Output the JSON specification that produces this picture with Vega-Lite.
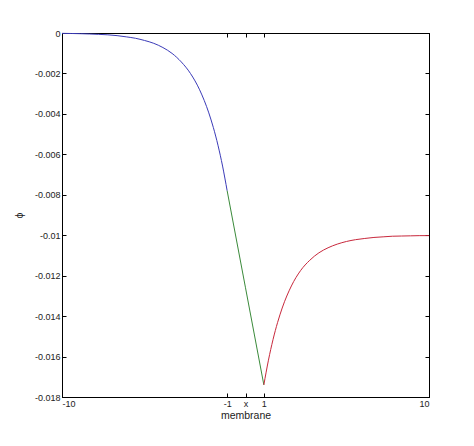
{
  "$schema": "https://vega.github.io/schema/vega-lite/v6.json",
  "width": 367,
  "height": 364,
  "autosize": "none",
  "padding": {"left": 62, "top": 33, "right": 45, "bottom": 49},
  "background": "white",
  "config": {
    "view": {"stroke": "black", "strokeWidth": 1},
    "axis": {
      "grid": false,
      "domainColor": "black",
      "tickColor": "black",
      "labelFont": "Liberation Sans",
      "titleFont": "Liberation Sans",
      "labelColor": "#222222",
      "titleColor": "#222222",
      "labelFontSize": 9,
      "titleFontSize": 10.5,
      "titleFontWeight": "normal",
      "tickSize": -4
    }
  },
  "data": {
    "values": [
      {"x": -10, "phi": -0.000017, "seg": "a"},
      {"x": -9.5, "phi": -0.000024, "seg": "a"},
      {"x": -9, "phi": -0.000034, "seg": "a"},
      {"x": -8.5, "phi": -0.000048, "seg": "a"},
      {"x": -8, "phi": -0.000067, "seg": "a"},
      {"x": -7.5, "phi": -0.00009, "seg": "a"},
      {"x": -7, "phi": -0.00013, "seg": "a"},
      {"x": -6.5, "phi": -0.00019, "seg": "a"},
      {"x": -6, "phi": -0.00026, "seg": "a"},
      {"x": -5.5, "phi": -0.00037, "seg": "a"},
      {"x": -5, "phi": -0.00051, "seg": "a"},
      {"x": -4.5, "phi": -0.00072, "seg": "a"},
      {"x": -4, "phi": -0.00101, "seg": "a"},
      {"x": -3.5, "phi": -0.00143, "seg": "a"},
      {"x": -3, "phi": -0.002, "seg": "a"},
      {"x": -2.5, "phi": -0.00281, "seg": "a"},
      {"x": -2, "phi": -0.00395, "seg": "a"},
      {"x": -1.75, "phi": -0.00468, "seg": "a"},
      {"x": -1.5, "phi": -0.00555, "seg": "a"},
      {"x": -1.25, "phi": -0.00658, "seg": "a"},
      {"x": -1, "phi": -0.0078, "seg": "a"},
      {"x": -1, "phi": -0.0078, "seg": "b"},
      {"x": 0, "phi": -0.0126, "seg": "b"},
      {"x": 1, "phi": -0.0174, "seg": "b"},
      {"x": 1, "phi": -0.0174, "seg": "c"},
      {"x": 1.25, "phi": -0.01618, "seg": "c"},
      {"x": 1.5, "phi": -0.01516, "seg": "c"},
      {"x": 1.75, "phi": -0.01431, "seg": "c"},
      {"x": 2, "phi": -0.0136, "seg": "c"},
      {"x": 2.5, "phi": -0.01251, "seg": "c"},
      {"x": 3, "phi": -0.01175, "seg": "c"},
      {"x": 3.5, "phi": -0.01124, "seg": "c"},
      {"x": 4, "phi": -0.01087, "seg": "c"},
      {"x": 4.5, "phi": -0.01062, "seg": "c"},
      {"x": 5, "phi": -0.01044, "seg": "c"},
      {"x": 5.5, "phi": -0.01031, "seg": "c"},
      {"x": 6, "phi": -0.01022, "seg": "c"},
      {"x": 6.5, "phi": -0.01016, "seg": "c"},
      {"x": 7, "phi": -0.01011, "seg": "c"},
      {"x": 7.5, "phi": -0.01008, "seg": "c"},
      {"x": 8, "phi": -0.01005, "seg": "c"},
      {"x": 8.5, "phi": -0.01004, "seg": "c"},
      {"x": 9, "phi": -0.01003, "seg": "c"},
      {"x": 9.5, "phi": -0.01002, "seg": "c"},
      {"x": 10, "phi": -0.01002, "seg": "c"}
    ]
  },
  "resolve": {"axis": {"x": "independent", "y": "independent"}},
  "layer": [
    {
      "mark": {"type": "line", "strokeWidth": 1, "interpolate": "monotone"},
      "encoding": {
        "x": {
          "field": "x", "type": "quantitative",
          "scale": {"domain": [-10, 10], "nice": false, "zero": false},
          "axis": {
            "orient": "bottom",
            "title": "membrane",
            "values": [-10, -1, 0, 1, 10],
            "labelExpr": "datum.value == 0 ? 'x' : '' + datum.value",
            "labelPadding": 6,
            "titlePadding": 2
          }
        },
        "y": {
          "field": "phi", "type": "quantitative",
          "scale": {"domain": [-0.018, 0], "nice": false, "zero": false},
          "axis": {
            "orient": "left",
            "title": "ϕ",
            "values": [0, -0.002, -0.004, -0.006, -0.008, -0.01, -0.012, -0.014, -0.016, -0.018],
            "labelExpr": "'' + datum.value",
            "labelPadding": 6,
            "titlePadding": 10
          }
        },
        "color": {
          "field": "seg", "type": "nominal",
          "scale": {"domain": ["a", "b", "c"], "range": ["#3b3bb8", "#3a8a3a", "#c8283c"]},
          "legend": null
        }
      }
    },
    {
      "mark": {"type": "line", "strokeWidth": 1, "opacity": 0},
      "encoding": {
        "x": {
          "field": "x", "type": "quantitative",
          "scale": {"domain": [-10, 10], "nice": false, "zero": false},
          "axis": {"orient": "top", "title": null, "labels": false, "values": [-10, -1, 0, 1, 10]}
        },
        "y": {
          "field": "phi", "type": "quantitative",
          "scale": {"domain": [-0.018, 0], "nice": false, "zero": false},
          "axis": {"orient": "right", "title": null, "labels": false, "values": [0, -0.002, -0.004, -0.006, -0.008, -0.01, -0.012, -0.014, -0.016, -0.018]}
        },
        "detail": {"field": "seg"}
      }
    }
  ]
}
